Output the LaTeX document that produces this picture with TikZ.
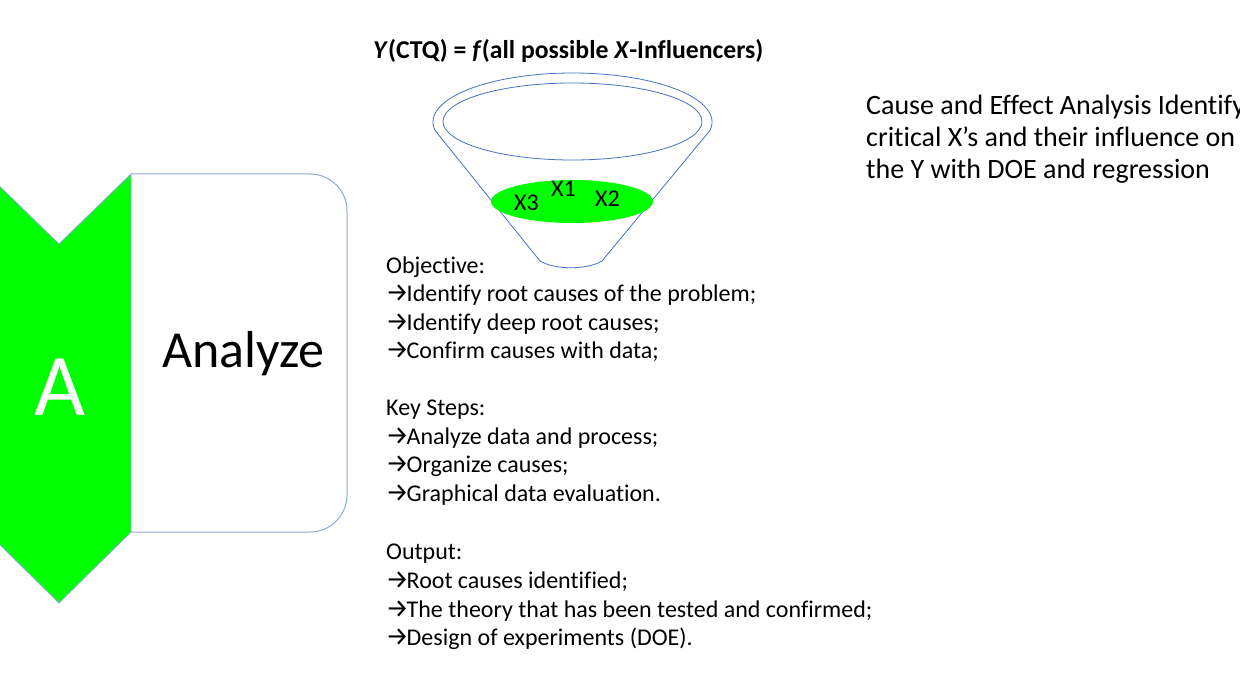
\documentclass[tikz,border=0pt]{standalone}
\usepackage{fontspec}
\setmainfont{Carlito}[Ligatures={NoCommon}]
\newfontfamily\arrowfont{Fira Sans}
\newcommand{\myarrow}{\makebox[20.5pt][l]{\hspace{-0.5pt}\arrowfont\fontsize{26}{28}\selectfont →}}
\definecolor{chevgreen}{HTML}{00FF00}
\definecolor{funnelblue}{HTML}{4472C4}
\definecolor{boxblue}{HTML}{8EA9DB}
\begin{document}
\begin{tikzpicture}[x=1pt,y=-1pt,
  txt/.style={anchor=base west, inner sep=0pt, font=\fontsize{24}{28}\selectfont},
  funnelline/.style={draw=funnelblue, line width=0.8pt},
  boxline/.style={draw=boxblue, line width=1pt}]
\useasboundingbox (0,0) rectangle (1240,698);
\fill[white] (0,0) rectangle (1240,698);
% chevron
\path[fill=chevgreen, draw=boxblue, line width=0.8pt]
  (-13,174) -- (59,244) -- (131,174) -- (131,532) -- (59,603) -- (-13,532) -- cycle;
% rounded box
\draw[boxline] (131,174) [rounded corners=37pt] -- (347,174) -- (347,532) -- (131,532);
\node[txt, text=white, font=\fontsize{88}{90}\selectfont] (bigA) at (34,415) {A};
\node[txt, font=\fontsize{52}{60}\selectfont] (analyze) at (162,367) {Analyze};
% title
\node[txt, font=\bfseries\fontsize{25.7}{28}\selectfont] (title) at (373,59)
  {\textit{Y}(CTQ) = \textit{f}(all possible \textit{X}-Influencers)};
% funnel
\draw[funnelline] plot[domain=190:-10, samples=80, smooth] ({572.5+139.5*cos(\x)},{122-49*sin(\x)})
  -- (602,261) .. controls (587,270) and (555,270) .. (540,261) -- cycle;
\draw[funnelline] (572.5,121.5) ellipse [x radius=129.5pt, y radius=38.5pt];
\fill[chevgreen] (572,201.5) ellipse [x radius=81pt, y radius=21.5pt];
\node[txt] (x3) at (514,210) {X3};
\node[txt] (x1) at (551,196.5) {X1};
\node[txt] (x2) at (595,206) {X2};
% left text block
\node[txt] (l1) at (386,273) {Objective:};
\node[txt] (l2) at (386,301.5) {\myarrow Identify root causes of the problem;};
\node[txt] (l3) at (386,330) {\myarrow Identify deep root causes;};
\node[txt] (l4) at (386,358.5) {\myarrow Confirm causes with data;};
\node[txt] (l5) at (386,415.5) {Key Steps:};
\node[txt] (l6) at (386,444) {\myarrow Analyze data and process;};
\node[txt] (l7) at (386,472.5) {\myarrow Organize causes;};
\node[txt] (l8) at (386,501) {\myarrow Graphical data evaluation.};
\node[txt] (l9) at (386,559) {Output:};
\node[txt] (l10) at (386,588) {\myarrow Root causes identified;};
\node[txt] (l11) at (386,617) {\myarrow The theory that has been tested and confirmed;};
\node[txt] (l12) at (386,645.5) {\myarrow Design of experiments (DOE).};
% right text
\node[txt, font=\fontsize{28}{32}\selectfont] (r1) at (866,114.5) {Cause and Effect Analysis Identify};
\node[txt, font=\fontsize{28}{32}\selectfont] (r2) at (866,146.5) {critical X’s and their influence on};
\node[txt, font=\fontsize{28}{32}\selectfont] (r3) at (866,178.5) {the Y with DOE and regression};
\end{tikzpicture}
\end{document}
